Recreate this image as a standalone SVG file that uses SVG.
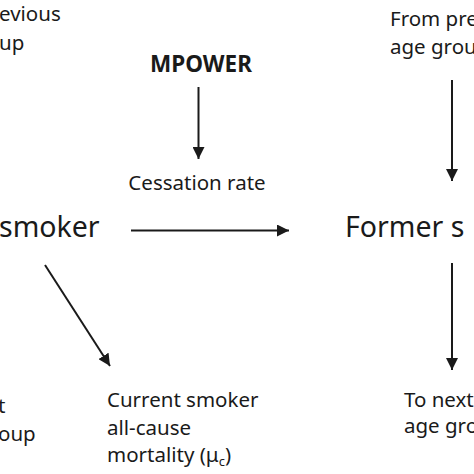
<svg xmlns="http://www.w3.org/2000/svg" width="474" height="474" viewBox="0 0 474 474">
  <style>
    text { font-family: "Noto Sans", "Open Sans", sans-serif; fill: #1a1a1a; }
    .s { font-size: 20.5px; }
    .big { font-size: 28.5px; }
    .b { font-size: 22.5px; font-weight: bold; }
    .ln { stroke: #1a1a1a; stroke-width: 2; fill: none; }
  </style>
  <defs>
    <marker id="ah" viewBox="0 0 10 10" refX="10" refY="5" markerWidth="6" markerHeight="6" markerUnits="strokeWidth" orient="auto">
      <path d="M0,0 L10,5 L0,10 Z" fill="#1a1a1a"/>
    </marker>
  </defs>
  <rect width="474" height="474" fill="#ffffff"/>

  <g id="from-prev-left">
    <text class="s" x="-1" y="21">evious</text>
    <text class="s" x="-1" y="50">up</text>
  </g>
  <g id="mpower">
    <text class="b" x="201" y="72" text-anchor="middle">MPOWER</text>
  </g>
  <g id="cessation-rate">
    <text class="s" x="197" y="190" text-anchor="middle">Cessation rate</text>
  </g>
  <g id="current-smoker">
    <text class="big" x="-1" y="237">smoker</text>
  </g>
  <g id="from-prev-right">
    <text class="s" x="390" y="26">From pre</text>
    <text class="s" x="390" y="54">age grou</text>
  </g>
  <g id="former-smoker">
    <text class="big" x="345" y="237">Former s</text>
  </g>
  <g id="to-next-left">
    <text class="s" x="-2" y="413">t</text>
    <text class="s" x="-2" y="441">oup</text>
  </g>
  <g id="mortality">
    <text class="s" x="107" y="407">Current smoker</text>
    <text class="s" x="107" y="435">all-cause</text>
    <text class="s" x="107" y="462">mortality (μ<tspan font-size="13" dy="4">c</tspan><tspan dy="-4">)</tspan></text>
  </g>
  <g id="to-next-right">
    <text class="s" x="404" y="407">To next</text>
    <text class="s" x="404" y="433">age gro</text>
  </g>

  <g id="connectors">
    <line class="ln" x1="198.5" y1="87" x2="198.5" y2="159" marker-end="url(#ah)"/>
    <line class="ln" x1="131" y1="230.5" x2="289" y2="230.5" marker-end="url(#ah)"/>
    <line class="ln" x1="45" y1="265" x2="110" y2="366" marker-end="url(#ah)"/>
    <line class="ln" x1="452" y1="80" x2="452" y2="181" marker-end="url(#ah)"/>
    <line class="ln" x1="452" y1="263" x2="452" y2="370" marker-end="url(#ah)"/>
  </g>
</svg>
